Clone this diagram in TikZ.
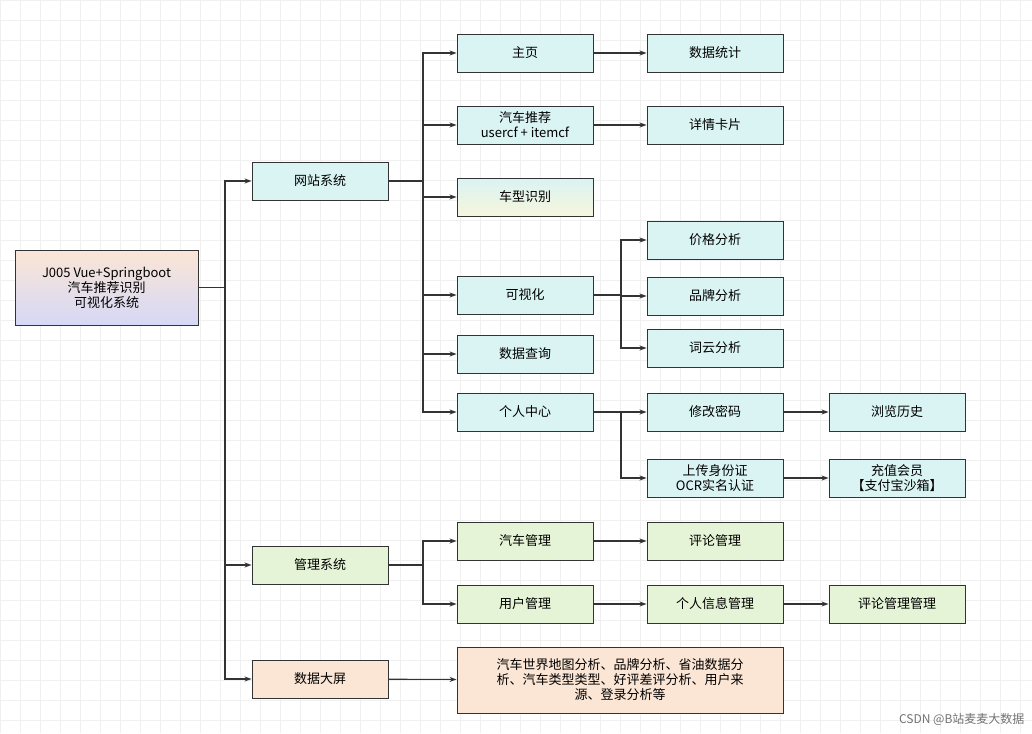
\documentclass[tikz,border=0pt]{standalone}
\usepackage{fontspec}
\setmainfont{Noto Sans CJK SC}
\usetikzlibrary{arrows.meta}
\definecolor{cy}{HTML}{DAF3F3}
\definecolor{gr}{HTML}{E5F4D6}
\definecolor{pe}{HTML}{FBE6D5}
\definecolor{lav}{HTML}{D5D8F7}
\definecolor{yl}{HTML}{F6F6DC}
\definecolor{ed}{HTML}{333333}
\begin{document}
\begin{tikzpicture}[x=1pt,y=-1pt,
  box/.style={draw=ed,line width=0.9pt,minimum width=136pt,minimum height=38pt,align=center,inner sep=1pt,font=\fontsize{13}{15}\selectfont},
  c/.style={box,fill=cy}, g/.style={box,fill=gr}, p/.style={box,fill=pe},
  arr/.style={draw=ed,line width=1.1pt,-{Stealth[length=7pt,width=5pt]}}]
\useasboundingbox (0,0) rectangle (1032,733);
\fill[white] (0,0) rectangle (1032,733);
\foreach \i in {0,20,...,1032} \draw[black!6,line width=0.4pt] (\i,0) -- (\i,733);
\foreach \j in {0,20,...,733} \draw[black!6,line width=0.4pt] (0,\j) -- (1032,\j);
\node[box,minimum width=183pt,minimum height=75pt,top color=pe,bottom color=lav] (root) at (106.5,287.5) {J005 Vue+Springboot\\汽车推荐识别\\可视化系统};
\node[c] (web) at (320,181) {网站系统};
\node[g] (mgr) at (320,565) {管理系统};
\node[p] (scr) at (320,679) {数据大屏};
\node[c] (home) at (525,53) {主页};
\node[c] (rec) at (525,125) {汽车推荐\\usercf + itemcf};
\node[box,top color=cy,bottom color=yl] (iden) at (525,197) {车型识别};
\node[c] (vis) at (525,295) {可视化};
\node[c] (qry) at (525,354) {数据查询};
\node[c] (me) at (525,412) {个人中心};
\node[c] (stat) at (715,53) {数据统计};
\node[c] (card) at (715,125) {详情卡片};
\node[c] (price) at (715,240) {价格分析};
\node[c] (brand) at (715,296) {品牌分析};
\node[c] (cloud) at (715,348) {词云分析};
\node[c] (pwd) at (715,412) {修改密码};
\node[c] (ocr) at (715,478) {上传身份证\\OCR实名认证};
\node[c] (hist) at (897,412) {浏览历史};
\node[c] (vip) at (897,478) {充值会员\\【支付宝沙箱】};
\node[g] (car) at (525,541) {汽车管理};
\node[g] (usr) at (525,604) {用户管理};
\node[g] (cmt) at (715,541) {评论管理};
\node[g] (info) at (715,604) {个人信息管理};
\node[g] (cmt2) at (897,604) {评论管理管理};
\node[p,minimum width=326pt,minimum height=66pt] (big) at (620,680) {汽车世界地图分析、品牌分析、省油数据分\\析、汽车类型类型、好评差评分析、用户来\\源、登录分析等};
\node[text=black!55,font=\fontsize{12}{14}\selectfont,anchor=south east] (csdn) at (1028,729) {CSDN @B站麦麦大数据};
\coordinate (t1) at (225,287.5);
\coordinate (t2) at (423,181);
\coordinate (t3) at (621,295);
\coordinate (t4) at (621,412);
\coordinate (t5) at (423,565);
\draw[draw=ed,line width=1.1pt] (root.east) -- (t1);
\foreach \n in {web,mgr,scr} \draw[arr] (t1) |- (\n.west);
\draw[draw=ed,line width=1.1pt] (web.east) -- (t2);
\foreach \n in {home,rec,iden,vis,qry,me} \draw[arr] (t2) |- (\n.west);
\draw[draw=ed,line width=1.1pt] (vis.east) -- (t3);
\foreach \n in {price,brand,cloud} \draw[arr] (t3) |- (\n.west);
\draw[draw=ed,line width=1.1pt] (me.east) -- (t4);
\foreach \n in {pwd,ocr} \draw[arr] (t4) |- (\n.west);
\draw[draw=ed,line width=1.1pt] (mgr.east) -- (t5);
\foreach \n in {car,usr} \draw[arr] (t5) |- (\n.west);
\draw[arr] (home) -- (stat);
\draw[arr] (rec) -- (card);
\draw[arr] (pwd) -- (hist);
\draw[arr] (ocr) -- (vip);
\draw[arr] (car) -- (cmt);
\draw[arr] (usr) -- (info);
\draw[arr] (info) -- (cmt2);
\draw[arr] (scr) -- (big);
\end{tikzpicture}
\end{document}
